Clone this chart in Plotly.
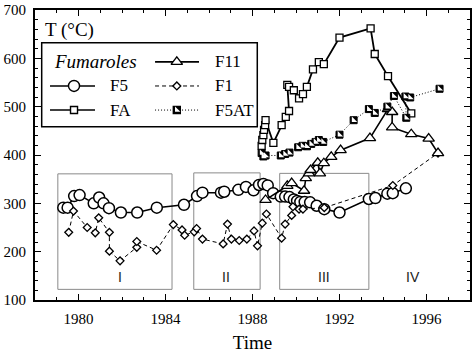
import plotly.graph_objects as go

# ---------------- data ----------------
f5_year = [1979.3, 1979.5, 1979.8, 1980.05, 1980.7, 1980.95, 1981.15, 1981.4, 1981.95, 1982.7,
           1983.6, 1984.85, 1985.45, 1985.7, 1986.55, 1986.7, 1987.35, 1987.7, 1988.05, 1988.3,
           1988.5, 1988.7, 1988.95, 1989.3, 1989.5, 1989.7, 1989.9, 1990.05, 1990.2, 1990.4,
           1990.65, 1990.95, 1991.3, 1992.0, 1993.35, 1993.65, 1994.2, 1994.45, 1995.05]
f5_temp = [291, 291, 315, 317, 300, 312, 300, 290, 281, 281,
           291, 297, 315, 322, 322, 324, 328, 334, 327, 338,
           340, 337, 321, 314, 314, 313, 308, 305, 303, 303,
           302, 295, 288, 281, 309, 311, 320, 321, 331]

f1_year = [1979.55, 1979.77, 1980.4, 1980.77, 1980.93, 1981.42, 1981.42, 1981.91, 1982.68, 1982.68,
           1983.59, 1984.36, 1984.76, 1984.88, 1985.32, 1985.43, 1985.7, 1986.65, 1986.85, 1987.03,
           1987.39, 1987.74, 1988.07, 1988.23, 1988.45, 1988.64, 1989.34, 1989.5, 1989.8, 1989.86,
           1990.14, 1990.32, 1991.3, 1994.45, 1996.53]
f1_temp = [240, 284, 250, 239, 270, 240, 201, 181, 209, 221,
           203, 256, 245, 234, 241, 248, 226, 216, 257, 226,
           223, 226, 243, 212, 259, 278, 228, 257, 275, 293,
           288, 288, 291, 337, 404]

f11_year = [1988.6, 1989.6, 1989.8, 1990.37, 1990.45, 1990.6, 1990.67, 1991.0, 1991.1, 1991.28,
            1991.62, 1992.05, 1993.4, 1994.23, 1994.42, 1994.42, 1995.3, 1996.1, 1996.53]
f11_temp = [307, 336, 342, 326, 352, 362, 369, 384, 362, 383,
            396, 410, 435, 495, 489, 457, 443, 434, 404]

fa_year = [1988.42, 1988.45, 1988.5, 1988.53, 1988.58, 1988.6, 1988.96, 1989.34, 1989.53, 1989.68,
           1989.6, 1989.68, 1989.9, 1990.14, 1990.32, 1990.5, 1990.78, 1991.05, 1991.28, 1992.0,
           1993.43, 1993.62, 1994.23, 1995.3]
fa_temp = [419, 431, 441, 452, 462, 472, 425, 462, 479, 491,
           545, 541, 534, 517, 526, 541, 577, 592, 588, 643,
           662, 609, 563, 486]

f5at_year = [1988.42, 1988.5, 1988.6, 1989.3, 1989.5, 1989.7, 1990.1, 1990.3, 1990.5, 1990.7,
             1990.9, 1991.05, 1991.25, 1992.0, 1992.65, 1993.35, 1993.62, 1994.2, 1994.5, 1995.07,
             1995.03, 1995.25, 1996.6]
f5at_temp = [404, 397, 399, 399, 402, 405, 416, 419, 418, 423,
             427, 431, 427, 442, 472, 495, 487, 500, 522, 477,
             521, 519, 537]

period_labels = ["I", "II", "III", "IV"]
period_start = [1979.05, 1985.3, 1989.25]
period_end = [1984.3, 1988.35, 1993.35]
period_low = [122, 122, 122]
period_high = [361, 363, 362]
label_year = [1981.9, 1986.8, 1991.3, 1995.4]
label_temp = [148, 148, 148, 148]

x_ticks = [1980, 1984, 1988, 1992, 1996]
y_ticks = [100, 200, 300, 400, 500, 600, 700]

legend_names = ["F5", "FA", "F11", "F1", "F5AT"]

# ---------------- figure ----------------
SERIF = "Liberation Serif, Times New Roman, serif"
fig = go.Figure()

# F5: open circles, solid line
fig.add_trace(go.Scatter(x=f5_year, y=f5_temp, mode="lines+markers",
                         line=dict(color="black", width=1.6),
                         marker=dict(symbol="circle", size=11, color="white",
                                     line=dict(color="black", width=1.5)),
                         showlegend=False))
# F1: small diamonds, dashed line
fig.add_trace(go.Scatter(x=f1_year, y=f1_temp, mode="lines+markers",
                         line=dict(color="black", width=1, dash="4px,3px"),
                         marker=dict(symbol="diamond", size=6, color="white",
                                     line=dict(color="black", width=1.3)),
                         showlegend=False))
# F11: open triangles, solid line
fig.add_trace(go.Scatter(x=f11_year, y=f11_temp, mode="lines+markers",
                         line=dict(color="black", width=1.6),
                         marker=dict(symbol="triangle-up", size=10, color="white",
                                     line=dict(color="black", width=1.3)),
                         showlegend=False))
# FA: open squares, solid line
fig.add_trace(go.Scatter(x=fa_year, y=fa_temp, mode="lines+markers",
                         line=dict(color="black", width=1.8),
                         marker=dict(symbol="square", size=7, color="white",
                                     line=dict(color="black", width=1.3)),
                         showlegend=False))
# F5AT: half-filled squares, dotted line
fig.add_trace(go.Scatter(x=f5at_year, y=f5at_temp, mode="lines+markers",
                         line=dict(color="black", width=1, dash="1px,2px"),
                         marker=dict(symbol="square", size=7, color="black",
                                     line=dict(color="black", width=1)),
                         showlegend=False))
fig.add_trace(go.Scatter(x=f5at_year, y=f5at_temp, mode="markers",
                         marker=dict(symbol="triangle-sw", size=6, color="white",
                                     line=dict(width=0)),
                         showlegend=False, hoverinfo="skip"))

# period boxes and labels
for i in range(len(period_start)):
    fig.add_shape(type="rect", xref="x", yref="y",
                  x0=period_start[i], x1=period_end[i], y0=period_low[i], y1=period_high[i],
                  line=dict(color="#8a8a8a", width=1), layer="below")
for i, lab in enumerate(period_labels):
    fig.add_annotation(x=label_year[i], y=label_temp[i], xref="x", yref="y", text=lab,
                       showarrow=False, font=dict(family="Liberation Sans, Arial", size=14, color="#222"))

# ---------------- manual legend (overlay axes in paper units) ----------------
col_line = [(0.0345, 0.138, 0.0897), (0.276, 0.377, 0.326)]
row_y = [0.821, 0.738, 0.655]
col_text = [0.168, 0.409]
leg_items = [
    # (col, row, dash, symbol, size, fill)
    (0, 1, "solid", "circle", 11, "white"),
    (0, 2, "solid", "square", 7, "white"),
    (1, 0, "solid", "triangle-up", 10, "white"),
    (1, 1, "4px,3px", "diamond", 6, "white"),
    (1, 2, "1px,2px", "square", 7, "black"),
]
fig.add_shape(type="rect", xref="paper", yref="paper", x0=0.0154, x1=0.511, y0=0.5976, y1=0.887,
              line=dict(color="black", width=1.5), fillcolor="white", layer="below")
for name, (c, r, dash, sym, sz, fill) in zip(legend_names, leg_items):
    x0, x1, xm = col_line[c]
    y0 = row_y[r]
    fig.add_trace(go.Scatter(x=[x0, x1], y=[y0, y0], xaxis="x2", yaxis="y2", mode="lines",
                             line=dict(color="black", width=1.6 if dash == "solid" else 1, dash=dash),
                             showlegend=False, hoverinfo="skip"))
    fig.add_trace(go.Scatter(x=[xm], y=[y0], xaxis="x2", yaxis="y2", mode="markers",
                             marker=dict(symbol=sym, size=sz, color=fill, line=dict(color="black", width=1.4)),
                             showlegend=False, hoverinfo="skip"))
    if name == "F5AT":
        fig.add_trace(go.Scatter(x=[xm], y=[y0], xaxis="x2", yaxis="y2", mode="markers",
                                 marker=dict(symbol="triangle-sw", size=6, color="white", line=dict(width=0)),
                                 showlegend=False, hoverinfo="skip"))
    fig.add_annotation(x=col_text[c], y=y0, xref="paper", yref="paper", text=name, showarrow=False,
                       xanchor="left", yanchor="middle", font=dict(family=SERIF, size=17, color="black"))

fig.add_annotation(x=0.0384, y=row_y[0], xref="paper", yref="paper", text="<i>Fumaroles</i>",
                   showarrow=False, xanchor="left", yanchor="middle",
                   font=dict(family=SERIF, size=19, color="black"))
fig.add_annotation(x=0.0184, y=0.931, xref="paper", yref="paper", text="T (°C)",
                   showarrow=False, xanchor="left", yanchor="middle",
                   font=dict(family=SERIF, size=19, color="black"))

axis_common = dict(showline=True, linecolor="black", linewidth=2, mirror="allticks",
                   ticks="inside", ticklen=6, tickwidth=1, tickcolor="black",
                   showgrid=False, zeroline=False, automargin=False,
                   tickfont=dict(family=SERIF, size=15, color="black"))

fig.update_layout(
    template="none",
    width=474, height=355,
    margin=dict(l=35, r=4, t=10, b=55),
    paper_bgcolor="white", plot_bgcolor="white",
    xaxis=dict(range=[1978, 1998], tickvals=x_ticks, ticktext=[str(v) for v in x_ticks],
               minor=dict(dtick=1, tick0=1978, ticks="inside", ticklen=3, tickcolor="black"),
               ticklabelstandoff=4,
               title=dict(text="Time", font=dict(family=SERIF, size=19, color="black"), standoff=10),
               **axis_common),
    yaxis=dict(range=[100, 700], tickvals=y_ticks,
               minor=dict(dtick=20, tick0=100, ticks="inside", ticklen=3, tickcolor="black"),
               ticklabelstandoff=4,
               **axis_common),
    xaxis2=dict(domain=[0, 1], range=[0, 1], overlaying="x", anchor="y2", visible=False),
    yaxis2=dict(domain=[0, 1], range=[0, 1], overlaying="y", anchor="x2", visible=False),
    showlegend=False,
)

fig.write_html("out.html", config={"displayModeBar": False},
               post_script="document.body.style.margin='0';")
